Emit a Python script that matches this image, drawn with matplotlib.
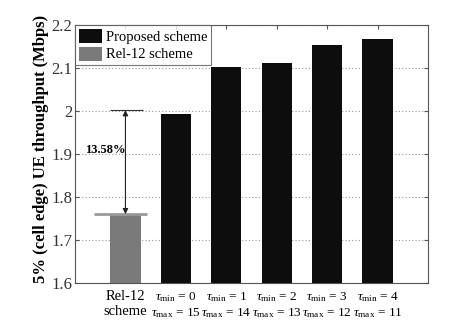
import matplotlib
matplotlib.use("Agg")
import matplotlib.pyplot as plt

categories = ["Rel-12\nscheme",
              "$\\tau_{\\mathrm{min}}$ = 0\n$\\tau_{\\mathrm{max}}$ = 15",
              "$\\tau_{\\mathrm{min}}$ = 1\n$\\tau_{\\mathrm{max}}$ = 14",
              "$\\tau_{\\mathrm{min}}$ = 2\n$\\tau_{\\mathrm{max}}$ = 13",
              "$\\tau_{\\mathrm{min}}$ = 3\n$\\tau_{\\mathrm{max}}$ = 12",
              "$\\tau_{\\mathrm{min}}$ = 4\n$\\tau_{\\mathrm{max}}$ = 11"]
rel12_value = [1.757]
proposed_values = [1.994, 2.102, 2.112, 2.153, 2.168]
gain_label = "13.58%"
gain_top = 2.002
gain_base = 1.760
yticks = [1.6, 1.7, 1.8, 1.9, 2.0, 2.1, 2.2]
ytick_labels = ["1.6", "1.7", "1.8", "1.9", "2", "2.1", "2.2"]

plt.rcParams['font.family'] = ['Liberation Serif', 'DejaVu Serif']
plt.rcParams['mathtext.fontset'] = 'custom'
plt.rcParams['mathtext.rm'] = 'Liberation Serif'
plt.rcParams['mathtext.it'] = 'Liberation Serif:italic'

fig = plt.figure(figsize=(4.74, 3.34), dpi=100)
ax = fig.add_axes([75/474, 1-283/334, (428-75)/474, (283-25)/334])

pos = list(range(1, len(categories) + 1))
ax.bar(pos[:1], rel12_value, width=0.6, color='#7a7a7a', label='Rel-12 scheme', zorder=3)
ax.bar(pos[1:], proposed_values, width=0.6, color='#0d0d0d', label='Proposed scheme', zorder=3)

ax.set_xlim(0, 7)
ax.set_ylim(1.6, 2.2)
ax.set_yticks(yticks)
ax.set_yticklabels(ytick_labels, fontsize=12, color='#333333')
ax.set_xticks(pos)
ax.set_xticklabels(categories, fontsize=9.5, linespacing=1.2)
ax.get_xticklabels()[0].set_fontsize(10.5)
ax.tick_params(direction='in', top=True, right=True, length=3, color='#555555')
ax.tick_params(axis='x', pad=5)
ax.tick_params(axis='y', pad=2)
ax.yaxis.grid(True, linestyle=(0, (1, 2)), color='#999999', linewidth=0.8)
for s in ax.spines.values():
    s.set_color('#555555')
    s.set_linewidth(0.8)

ax.set_ylabel("5% (cell edge) UE throughput (Mbps)", fontsize=12, fontweight='bold')
ax.yaxis.set_label_coords(-0.075, 0.519)

# reference lines and arrow
ax.hlines(gain_top, 0.7, 1.35, color='#333333', linewidth=0.8, zorder=4)
ax.hlines(gain_base, 0.37, 1.42, color='#999999', linewidth=2, zorder=4)
ax.annotate('', xy=(1, gain_base), xytext=(1, gain_top),
            arrowprops=dict(arrowstyle='<|-|>', color='#222222', lw=0.8,
                            mutation_scale=8, shrinkA=0, shrinkB=0), zorder=5)
ax.text(1.0, 1.91, gain_label, ha='right', va='center', fontsize=9, fontweight='bold', zorder=6)

handles, labels = ax.get_legend_handles_labels()
leg = ax.legend(handles[::-1], labels[::-1], loc='upper left', fontsize=10.5,
                frameon=True, fancybox=False, borderaxespad=0, handlelength=1.6,
                handleheight=1.1, handletextpad=0.25, borderpad=0.25, labelspacing=0.2)
leg.get_frame().set_edgecolor('#555555')
leg.get_frame().set_linewidth(0.8)
leg.set_zorder(10)

fig.savefig("out.png", dpi=100)
